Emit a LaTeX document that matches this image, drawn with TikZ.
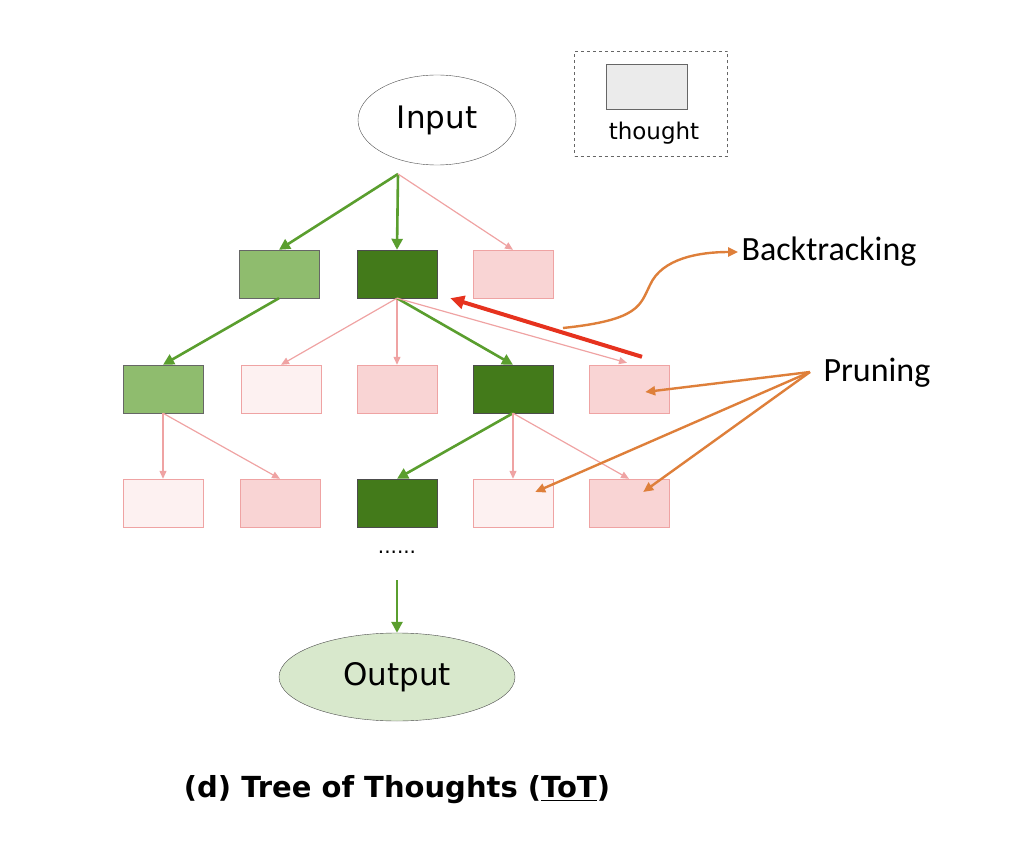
\documentclass[tikz,border=0pt]{standalone}
\usepackage{fontspec}
\setmainfont{DejaVu Sans}
\newfontfamily\calfont{Carlito}
\usetikzlibrary{arrows.meta,shapes.geometric,calc}
\definecolor{lg}{HTML}{8FBC6E}
\definecolor{dg}{HTML}{437A1A}
\definecolor{pk}{HTML}{F9D4D4}
\definecolor{vp}{HTML}{FDF1F1}
\definecolor{pe}{HTML}{EFA3A3}
\definecolor{ge}{HTML}{5A9E2E}
\definecolor{og}{HTML}{DE7F3A}
\definecolor{oc}{HTML}{D8E8CC}
\definecolor{rd}{HTML}{E6321E}
\begin{document}
\begin{tikzpicture}[x=1pt,y=-1pt,
 box/.style={draw,minimum width=80pt,minimum height=48pt,inner sep=0pt},
 bl/.style={box,fill=lg,draw=black!60},
 bd/.style={box,fill=dg,draw=black!70},
 bp/.style={box,fill=pk,draw=pe},
 bv/.style={box,fill=vp,draw=pe},
 ga/.style={draw=ge,line width=2.6pt,-{Triangle[length=11pt,width=11pt]}},
 pa/.style={draw=pe,line width=1.2pt,-{Triangle[length=8pt,width=7pt]}},
 oa/.style={draw=og,line width=2.4pt,-{Triangle[length=10pt,width=9pt]}}]
\useasboundingbox (0,0) rectangle (1018,842);
\node[ellipse,draw=black!70,minimum width=158pt,minimum height=90pt,font=\fontsize{31}{31}\selectfont] (in) at (437,120) {Input};
\node[draw=black!60,dashed,line width=1pt,minimum width=153pt,minimum height=105pt] (leg) at (651,104) {};
\node[draw=black!60,fill=black!8,minimum width=81pt,minimum height=45pt,inner sep=0pt] (lt) at (647,87) {};
\node[font=\fontsize{23}{23}\selectfont] (ltx) at (654,133) {thought};
\coordinate (is) at (398,174);
% row1
\node[bl] (a1) at (279,274) {};
\node[bd] (a2) at (397,274) {};
\node[bp] (a3) at (513,274) {};
% row2
\node[bl] (b1) at (163,389) {};
\node[bv] (b2) at (281,389) {};
\node[bp] (b3) at (397,389) {};
\node[bd] (b4) at (513,389) {};
\node[bp] (b5) at (629,389) {};
% row3
\node[bv] (c1) at (163,503) {};
\node[bp] (c2) at (280,503) {};
\node[bd] (c3) at (397,503) {};
\node[bv] (c4) at (513,503) {};
\node[bp] (c5) at (629,503) {};
\node[font=\fontsize{20}{20}\selectfont] (dots) at (397,552) {......};
\coordinate (ds) at (397,580);
\node[ellipse,draw=black!70,fill=oc,minimum width=236pt,minimum height=88pt,font=\fontsize{31}{31}\selectfont] (out) at (397,677) {Output};
\node[font=\bfseries\fontsize{29}{29}\selectfont] (cap) at (397,790) {(d) Tree of Thoughts (\underline{ToT})};
\node[font=\calfont\fontsize{34}{34}\selectfont,anchor=west] (bt) at (738,252) {Backtracking};
\node[font=\calfont\fontsize{34}{34}\selectfont,anchor=west] (pr) at (820,373) {Pruning};
\coordinate (ps) at (810,372);
\coordinate (bs) at (563,328);
% edges
\draw[ga] (is) -- (a1.north);
\draw[ga] (is) -- (a2.north);
\draw[pa] (is) -- (a3.north);
\draw[ga] (a1.south) -- (b1.north);
\draw[pa] (a2.south) -- (b2.north);
\draw[pa] (a2.south) -- (b3.north);
\draw[ga] (a2.south) -- (b4.north);
\draw[pa] (a2.south) -- ($(b5.north)+(-2,-2)$);
\draw[pa] (b1.south) -- (c1.north);
\draw[pa] (b1.south) -- (c2.north);
\draw[ga] (b4.south) -- (c3.north);
\draw[pa] (b4.south) -- (c4.north);
\draw[pa] (b4.south) -- (c5.north);
\draw[ga] (ds) -- (out.north);
\draw[draw=rd,line width=4pt,-{Triangle[length=14pt,width=13pt]}] ($(b5.north)+(13,-8)$) -- ($(a2.south east)+(13,0)$);
\draw[oa] (bs) .. controls (640,320) and (640,305) .. (650,285) .. controls (662,258) and (700,252) .. (bt.west);
\draw[oa] (ps) -- ($(b5.east)+(-24,3)$);
\draw[oa] (ps) -- ($(c4.east)+(-18,-11)$);
\draw[oa] (ps) -- ($(c5.east)+(-26,-11)$);
\end{tikzpicture}
\end{document}
